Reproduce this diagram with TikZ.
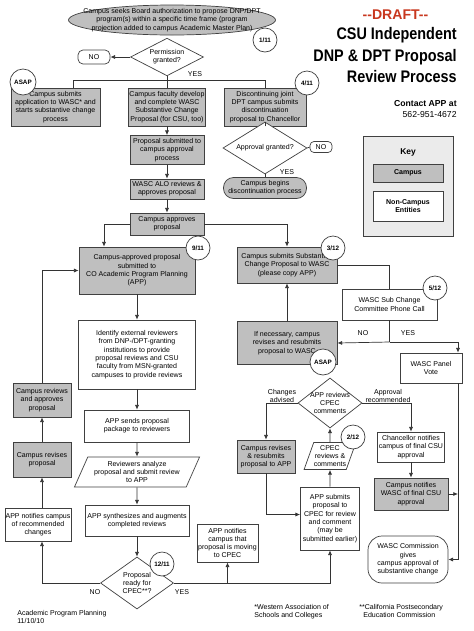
\documentclass[tikz,border=0pt]{standalone}
\usepackage{fontspec}
\setmainfont{Liberation Sans}
\newfontfamily\titlefont{Liberation Sans}[FakeStretch=0.86]
\usetikzlibrary{arrows.meta,shapes.geometric}
\newlength\px
\setlength\px{0.03cm}
\newcommand{\tx}{\fontsize{6}{7.1}\selectfont}
\definecolor{draftred}{RGB}{200,55,30}

\begin{document}
\begin{tikzpicture}[x=1\px,y=-1\px,line width=0.6pt,
  box/.style={draw=black!75,align=center,font=\tx,inner sep=0.5pt},
  gbox/.style={box,fill=black!25},
  wbox/.style={box,fill=white},
  tag/.style={circle,draw=black!75,fill=white,font=\fontsize{5.4}{6}\selectfont\bfseries,minimum size=24\px,inner sep=0pt},
  dec/.style={diamond,draw=black!75,fill=white,align=center,font=\tx,inner sep=-3\px},
  para/.style={trapezium,trapezium stretches=true,draw=black!75,fill=white,align=center,font=\tx,inner sep=0pt},
  arr/.style={draw=black!80,-{Latex[length=4pt,width=3.4pt]}},
  lin/.style={draw=black!80},
  lbl/.style={font=\tx,inner sep=0pt,align=center}]
  \useasboundingbox (0,0) rectangle (474,631);

  \node[anchor=base,font=\fontsize{12}{14}\selectfont\bfseries,text=draftred] (draft) at (395.5,19) {{-}{-}DRAFT{-}{-}};
  \node[anchor=base east,font=\titlefont\bfseries\fontsize{14.3}{18}\selectfont,inner sep=0pt] (ti1) at (457,39.3) {CSU Independent};
  \node[anchor=base east,font=\titlefont\bfseries\fontsize{14.3}{18}\selectfont,inner sep=0pt] (ti2) at (457,61) {DNP \& DPT Proposal};
  \node[anchor=base east,font=\titlefont\bfseries\fontsize{14.3}{18}\selectfont,inner sep=0pt] (ti3) at (457,82.7) {Review Process};
  \node[anchor=base east,font=\fontsize{7.4}{9}\selectfont\bfseries,inner sep=0pt] (cont) at (457,106) {Contact APP at};
  \node[anchor=base east,font=\fontsize{7.4}{9}\selectfont,inner sep=0pt] (tel) at (457,117) {562-951-4672};

  \node[draw=black!75,fill=black!8,minimum width=90\px,minimum height=100\px] (key) at (408,186) {};
  \node[font=\fontsize{7.2}{8}\selectfont\bfseries] (keyt) at (408,152) {Key};
  \node[gbox,font=\tx\bfseries,minimum width=70\px,minimum height=18\px] (kc) at (408,173) {Campus};
  \node[wbox,font=\tx\bfseries,minimum width=70\px,minimum height=30\px] (kn) at (408,206) {Non-Campus\\Entities};

  \node[ellipse,draw=black!75,fill=black!25,minimum width=207\px,minimum height=30\px,
    label={[font=\tx,align=center]center:Campus seeks Board authorization to propose DNP/DPT\\program(s) within a specific time frame (program\\projection added to campus Academic Master Plan)}] (seek) at (172,20) {};
  \node[tag] (t111) at (265,40) {1/11};
  \node[dec,minimum width=73\px,minimum height=28\px] (perm) at (167,57) {Permission\\granted?};
  \node[wbox,rounded corners=5\px,minimum width=32\px,minimum height=14\px] (no1) at (94,57) {NO};
  \coordinate (j1) at (167,80);
  \node[lbl] (yes1) at (195,74) {YES};

  \node[gbox,minimum width=89\px,minimum height=38\px] (apply) at (55.5,107) {Campus submits\\application to WASC* and\\starts substantive change\\process};
  \node[tag,minimum size=26\px] (asap1) at (23,82) {ASAP};
  \node[gbox,minimum width=77\px,minimum height=38\px] (mid) at (167,107) {Campus faculty develop\\and complete WASC\\Substantive Change\\Proposal (for CSU, too)};
  \node[gbox,minimum width=82\px,minimum height=38\px] (disc) at (265,107) {Discontinuing joint\\DPT campus submits\\discontinuation\\proposal to Chancellor};
  \node[tag] (t411) at (307,83) {4/11};
  \node[dec,minimum width=84\px,minimum height=30\px] (appr) at (265,148) {Approval granted?};
  \node[wbox,rounded corners=4\px,minimum width=22\px,minimum height=11\px] (no2) at (321,147) {NO};
  \node[gbox,rounded corners=10\px,minimum width=83\px,minimum height=21\px] (begin) at (265,188) {Campus begins\\discontinuation process};
  \node[lbl] (yes2) at (287,172) {YES};

  \node[gbox,minimum width=74\px,minimum height=29\px] (sub) at (167,150) {Proposal submitted to\\campus approval\\process};
  \node[gbox,minimum width=74\px,minimum height=20\px] (alo) at (167,189) {WASC ALO reviews \&\\approves proposal};
  \node[gbox,minimum width=74\px,minimum height=22\px] (capp) at (167,224) {Campus approves\\proposal};

  \node[gbox,minimum width=116\px,minimum height=47\px] (co) at (137,270.5) {Campus-approved proposal\\submitted to\\CO Academic Program Planning\\(APP)};
  \node[tag] (t911) at (198,248) {9/11};
  \node[wbox,minimum width=117\px,minimum height=69\px] (ident) at (137,354.5) {Identify external reviewers\\from DNP-/DPT-granting\\institutions to provide\\proposal reviews and CSU\\faculty from MSN-granted\\campuses to provide reviews};
  \node[wbox,minimum width=105\px,minimum height=32\px] (send) at (137,426) {APP sends proposal\\package to reviewers};
  \node[para,trapezium left angle=62,trapezium right angle=118,minimum width=126\px,minimum height=30\px] (analyze) at (137,472) {Reviewers analyze\\proposal and submit review\\to APP};
  \node[wbox,minimum width=104\px,minimum height=31\px] (synth) at (137,520.5) {APP synthesizes and augments\\completed reviews};
  \node[dec,minimum width=73\px,minimum height=52\px] (ready) at (137,583) {Proposal\\ready for\\CPEC**?};
  \node[tag] (t1211) at (162,564) {12/11};
  \node[lbl] (no3) at (95,592) {NO};
  \node[lbl] (yes3) at (182,592) {YES};

  \node[gbox,minimum width=58\px,minimum height=34\px] (review) at (42,400) {Campus reviews\\and approves\\proposal};
  \node[gbox,minimum width=58\px,minimum height=35\px] (revise) at (42,459.5) {Campus revises\\proposal};
  \node[wbox,minimum width=66\px,minimum height=33\px] (notify) at (38,524.5) {APP notifies campus\\of recommended\\changes};
  \node[wbox,minimum width=61\px,minimum height=38\px] (move) at (227.5,543) {APP notifies\\campus that\\proposal is moving\\to CPEC};

  \node[gbox,minimum width=100\px,minimum height=36\px] (wsub) at (287,265) {Campus submits Substantive\\Change Proposal to WASC\\(please copy APP)};
  \node[tag] (t312) at (333,248) {3/12};
  \node[wbox,minimum width=95\px,minimum height=31\px] (phone) at (389.5,304.5) {WASC Sub Change\\Committee Phone Call};
  \node[tag] (t512) at (435,288) {5/12};
  \node[gbox,minimum width=100\px,minimum height=43\px] (resub) at (287,343) {If necessary, campus\\revises and resubmits\\proposal to WASC};
  \node[tag,minimum size=26\px] (asap2) at (323,362) {ASAP};
  \coordinate (j2) at (389.5,342);
  \node[lbl] (no4) at (363,333) {NO};
  \node[lbl] (yes4) at (408,333) {YES};
  \node[wbox,minimum width=62\px,minimum height=30\px] (vote) at (431,368) {WASC Panel\\Vote};
  \coordinate (v1) at ([xshift=27\px]vote.south);

  \node[dec,minimum width=64\px,minimum height=50\px] (revc) at (330,403) {APP reviews\\CPEC\\comments};
  \node[lbl] (chg) at (282,396) {Changes\\advised};
  \node[lbl] (rec) at (388,396) {Approval\\recommended};
  \node[gbox,minimum width=58\px,minimum height=33\px] (rev2) at (266,456.5) {Campus revises\\\& resubmits\\proposal to APP};
  \node[para,trapezium left angle=66,trapezium right angle=114,minimum width=52\px,minimum height=27\px] (cpec) at (330,456) {CPEC\\reviews \&\\comments};
  \node[tag] (t212) at (353,437) {2/12};
  \node[wbox,minimum width=59\px,minimum height=63\px] (cpecsub) at (330,518.5) {APP submits\\proposal to\\CPEC for review\\and comment\\(may be\\submitted earlier)};
  \node[wbox,minimum width=67\px,minimum height=30\px] (chanc) at (411,447) {Chancellor notifies\\campus of final CSU\\approval};
  \node[gbox,minimum width=74\px,minimum height=32\px] (notifw) at (411,494) {Campus notifies\\WASC of final CSU\\approval};
  \node[wbox,rounded corners=14\px,minimum width=80\px,minimum height=47\px] (comm) at (408,559.5) {WASC Commission\\gives\\campus approval of\\substantive change};

  \node[lbl,anchor=north west,align=left] (foot1) at (17,609.8) {Academic Program Planning\\11/10/10};
  \node[lbl,anchor=north west,align=left] (foot2) at (254,603.8) {*Western Association of\\Schools and Colleges};
  \node[lbl,anchor=north west,align=left] (foot3) at (359,603.8) {**California Postsecondary\\\hspace*{4\px}Education Commission};

  \draw[arr] (perm.west) -- (no1.east);
  \draw[lin] (perm.south) -- (j1) -| ([xshift=17.5\px]apply.north);
  \draw[lin] (j1) -- (mid.north);
  \draw[lin] (j1) -| (disc.north);
  \draw[lin] (disc.south) -- (appr.north);
  \draw[lin] (appr.east) -- (no2.west);
  \draw[lin] (appr.south) -- (begin.north);
  \draw[arr] (mid.south) -- (sub.north);
  \draw[arr] (sub.south) -- (alo.north);
  \draw[arr] (alo.south) -- (capp.north);
  \draw[arr] (capp.west) -| ([xshift=-33\px]co.north);
  \draw[arr] (capp.east) -| (wsub.north);
  \draw[arr] (co.south) -- (ident.north);
  \draw[arr] (ident.south) -- (send.north);
  \draw[arr] (send.south) -- (analyze.north);
  \draw[arr] (analyze.south) -- (synth.north);
  \draw[arr] (synth.south) -- (ready.north);
  \draw[arr] (ready.west) -| (notify.south -| revise.south);
  \draw[arr] (notify.north -| revise.south) -- (revise.south);
  \draw[arr] (revise.north) -- (review.south);
  \draw[arr] (review.north) |- (co.west);
  \draw[arr] (ready.east) -| (cpecsub.south);
  \draw[arr] (move.south |- ready.east) -- (move.south);
  \draw[lin] (wsub.east) -| (phone.north);
  \draw[arr] (resub.north) -- (wsub.south);
  \draw[lin] (phone.south) -- (j2);
  \draw[arr] (j2) -- (resub.east);
  \draw[arr] (j2) -| ([xshift=27\px]vote.north);
  \draw[arr] (v1) |- (comm.east);
  \draw[arr] (notifw.east) -- (notifw.east -| v1);
  \draw[arr] (revc.west) -| (rev2.north);
  \draw[arr] (revc.east) -| (chanc.north);
  \draw[arr] (rev2.south) |- ([yshift=4\px]cpecsub.west);
  \draw[arr] (cpecsub.north) -- (cpec.south);
  \draw[arr] (cpec.north) -- (revc.south);
  \draw[arr] (chanc.south) -- (notifw.north);
\end{tikzpicture}
\end{document}
